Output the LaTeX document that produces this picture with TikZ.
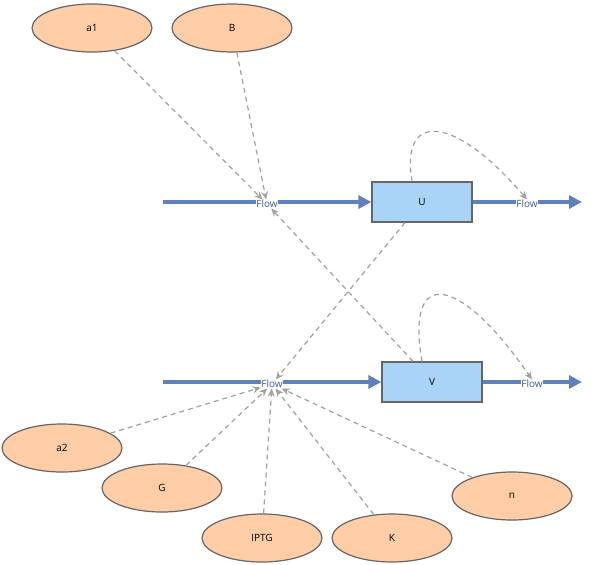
\documentclass[tikz,border=0pt]{standalone}
\usepackage{fontspec}
\setmainfont{Open Sans}
\usetikzlibrary{arrows.meta,shapes.geometric}
\definecolor{peach}{HTML}{FFCDA6}
\definecolor{skyb}{HTML}{A9D4F7}
\definecolor{edge}{HTML}{666666}
\definecolor{flowc}{HTML}{6081C0}
\definecolor{flowt}{HTML}{3D5C9E}
\definecolor{dash}{HTML}{A0A0A0}
\begin{document}
\begin{tikzpicture}[x=1pt,y=-1pt,
  ell/.style={ellipse,draw=edge,line width=1.2pt,fill=peach,minimum width=120pt,minimum height=48pt,inner sep=0pt,font=\fontsize{10}{12}\selectfont},
  box/.style={rectangle,draw=edge,line width=1.2pt,fill=skyb,minimum width=100pt,minimum height=40pt,inner sep=0pt,font=\fontsize{10}{12}\selectfont},
  flowlbl/.style={fill=white,inner sep=0.5pt,text=flowt,font=\fontsize{10}{12}\selectfont},
  flowarr/.style={draw=flowc,line width=3.2pt,-{Triangle[length=13pt,width=13pt]}},
  infl/.style={draw=dash,line width=1.2pt,dash pattern=on 5pt off 4pt,-{Stealth[length=8pt,width=7pt,open]}}
]
\useasboundingbox (0,0) rectangle (593,564);
% flow nodes
\coordinate (s1) at (163,202);
\coordinate (s2) at (163,382);
\coordinate (e1) at (582,202);
\coordinate (e2) at (582,382);
\node[box] (U) at (422,202) {U};
\node[box] (V) at (432,382) {V};
\node[ell] (a1) at (92,28) {a1};
\node[ell] (B) at (232,28) {B};
\node[ell] (a2) at (62,448) {a2};
\node[ell] (G) at (162,488) {G};
\node[ell] (IPTG) at (262,538) {IPTG};
\node[ell] (K) at (392,538) {K};
\node[ell] (n) at (512,496) {n};
% flows
\draw[flowarr] (s1) -- (U.west);
\draw[flowarr] (U.east) -- (e1);
\draw[flowarr] (s2) -- (V.west);
\draw[flowarr] (V.east) -- (e2);
\node[flowlbl] (f1) at (267,204) {Flow};
\node[flowlbl] (f2) at (527,204) {Flow};
\node[flowlbl] (f3) at (272,384) {Flow};
\node[flowlbl] (f4) at (532,384) {Flow};
% influences
\draw[infl] (a1) -- (f1);
\draw[infl] (B) -- (f1);
\draw[infl] ([xshift=-19pt]V.north) -- (f1);
\draw[infl] ([xshift=-17pt]U.south) -- (f3);
\draw[infl] ([xshift=-10pt]U.north) .. controls (400,110) and (455,115) .. (f2.north);
\draw[infl] ([xshift=-10pt]V.north) .. controls (405,265) and (460,275) .. (f4.north);
\draw[infl] (a2) -- (f3);
\draw[infl] (G) -- (f3);
\draw[infl] (IPTG) -- (f3);
\draw[infl] (K) -- (f3);
\draw[infl] (n) -- (f3);
\end{tikzpicture}
\end{document}
